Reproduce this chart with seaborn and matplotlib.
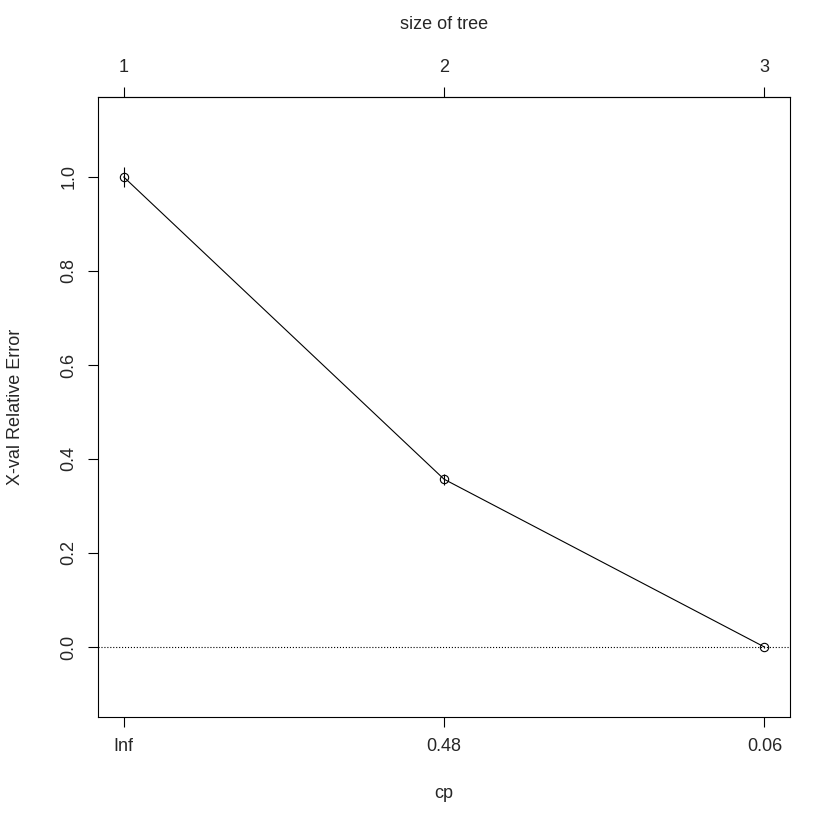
import matplotlib
matplotlib.use("Agg")
import matplotlib.pyplot as plt
import seaborn as sns
import pandas as pd

size_of_tree = [1, 2, 3]
cp_labels = ["Inf", "0.48", "0.06"]
xerror = [1.0, 0.357, 0.0]
xstd = [0.022, 0.012, 0.002]

sns.set_theme(style="white")
plt.rcParams['font.family'] = ['Liberation Sans', 'DejaVu Sans']
df = pd.DataFrame({"size": size_of_tree, "err": xerror, "sd": xstd})

fig = plt.figure(figsize=(8.4, 8.4), dpi=100)
ax = fig.add_axes([0.1167, 0.1464, 0.8238, 0.7381])
sns.lineplot(data=df, x="size", y="err", ax=ax, color="black", linewidth=0.8)
ax.errorbar(df["size"], df["err"], yerr=df["sd"], fmt="o", mfc="none", mec="black",
            ecolor="black", elinewidth=0.8, ms=6, mew=0.8)
ax.axhline(0, color="black", linestyle=":", linewidth=0.8)
ax.set_xlim(0.92, 3.08)
ax.set_ylim(-0.149, 1.17)
ax.set_xticks(size_of_tree)
ax.set_xticklabels(cp_labels)
ax.set_yticks([0, 0.2, 0.4, 0.6, 0.8, 1.0])
ax.set_yticklabels(["0.0", "0.2", "0.4", "0.6", "0.8", "1.0"], rotation=90, va="center")
ax.set_xlabel("cp", fontsize=13, labelpad=22)
ax.set_ylabel("X-val Relative Error", fontsize=13, labelpad=26)
ax.tick_params(axis="both", labelsize=13, length=7, width=0.8, direction="out",
               bottom=True, left=True, color="black", pad=8)
for s in ax.spines.values():
    s.set_color("black"); s.set_linewidth(0.8)
top = ax.secondary_xaxis("top")
top.spines["top"].set_linewidth(0.8)
top.set_xticks(size_of_tree)
top.set_xticklabels([str(s) for s in size_of_tree])
top.tick_params(labelsize=13, length=7, width=0.8, direction="out", color="black", pad=8)
top.set_xlabel("size of tree", fontsize=13, labelpad=22)
fig.savefig("out.png", dpi=100, facecolor="white")
